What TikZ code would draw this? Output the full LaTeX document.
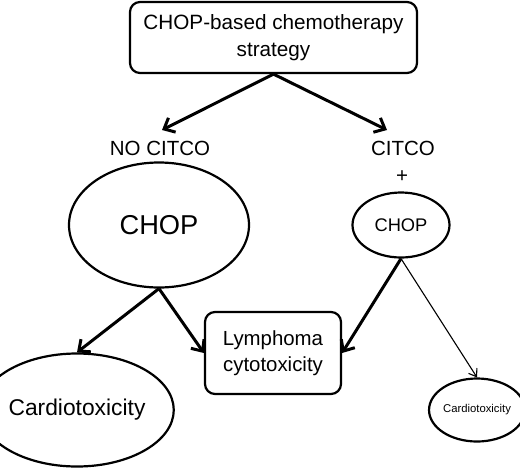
\documentclass[tikz,border=0pt]{standalone}
\usepackage{fontspec}
\setmainfont{Liberation Sans}
\usetikzlibrary{shapes.geometric,arrows.meta}
\begin{document}
\begin{tikzpicture}[x=1pt,y=-1pt,
  rbox/.style={draw,line width=2.2pt,rounded corners=10pt,inner sep=0pt,align=center},
  ell/.style={draw,ellipse,line width=2.2pt,inner sep=0pt},
  lbl/.style={inner sep=0pt,font=\fontsize{20.5}{24}\selectfont},
  thickarr/.style={line width=3pt,-{Straight Barb[length=9pt,width=16pt,line width=3pt]}},
  thinarr/.style={line width=1.1pt,-{Straight Barb[length=7pt,width=10pt,line width=1.1pt]}}]
\useasboundingbox (0,0) rectangle (520,467);
\node[rbox,minimum width=287pt,minimum height=71pt,font=\fontsize{20.7}{27}\selectfont] (top) at (273.5,37.5) {CHOP-based chemotherapy\\strategy};
\node[lbl] (nocitco) at (160,148) {NO CITCO};
\node[lbl] (citco) at (403,148) {CITCO};
\node[lbl] (plus) at (402,177) {+};
\coordinate (ntip) at (162,130);
\coordinate (ctip) at (387,130);
\node[ell,minimum width=180pt,minimum height=125pt,font=\fontsize{27.3}{30}\selectfont] (chop) at (159,225) {CHOP};
\node[ell,minimum width=97pt,minimum height=65pt,font=\fontsize{18.3}{20}\selectfont] (chops) at (401,225) {CHOP};
\node[rbox,minimum width=136pt,minimum height=82pt,font=\fontsize{20.4}{26}\selectfont] (lymph) at (273,353) {Lymphoma\\cytotoxicity};
\node[ell,minimum width=152pt,minimum height=113pt,font=\fontsize{22.8}{25}\selectfont] (lcardio) at (77,410) {Cardiotoxicity};
\node[ell,minimum width=84pt,minimum height=63pt,font=\fontsize{11.3}{13}\selectfont] (rcardio) at (477,410) {Cardiotoxicity};
\draw[thickarr] (top.south) -- (ntip);
\draw[thickarr] (top.south) -- (ctip);
\draw[thickarr] (chop.south) -- (lcardio.north);
\draw[thickarr] (chop.south) -- (lymph.west);
\draw[thickarr] (chops.south) -- (lymph.east);
\draw[thinarr] (chops.south) -- (rcardio.north);
\end{tikzpicture}
\end{document}
